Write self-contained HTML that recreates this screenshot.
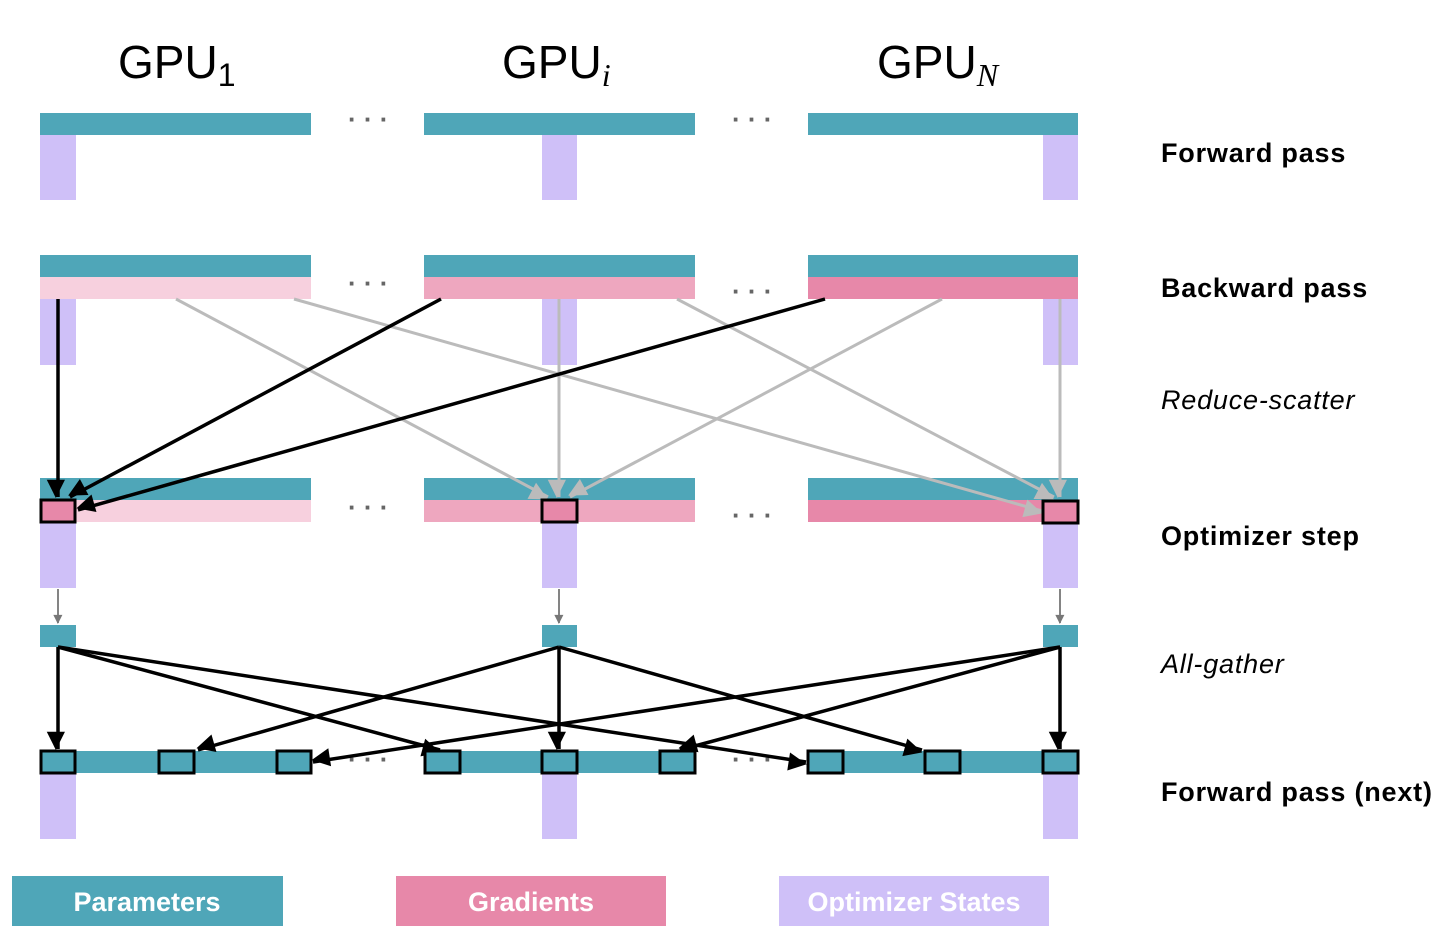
<!DOCTYPE html>
<html><head><meta charset="utf-8"><style>
html,body{margin:0;padding:0;background:#fff;}
svg{display:block}
text{font-family:"Liberation Sans",sans-serif}
</style></head><body>
<svg width="1440" height="944" viewBox="0 0 1440 944" xmlns="http://www.w3.org/2000/svg">
<defs>
<marker id="ab" viewBox="0 0 10 10" refX="9" refY="5" markerWidth="7" markerHeight="7" markerUnits="userSpaceOnUse" orient="auto" style="overflow:visible"><path d="M0,0 L10,5 L0,10 z" fill="#000" transform="scale(2.6) translate(-6,-1.9)"/></marker>
<marker id="ag" viewBox="0 0 10 10" refX="9" refY="5" markerWidth="7" markerHeight="7" markerUnits="userSpaceOnUse" orient="auto" style="overflow:visible"><path d="M0,0 L10,5 L0,10 z" fill="#bbb" transform="scale(2.6) translate(-6,-1.9)"/></marker>
<marker id="as" viewBox="0 0 10 10" refX="9" refY="5" markerWidth="7" markerHeight="7" markerUnits="userSpaceOnUse" orient="auto" style="overflow:visible"><path d="M0,0 L10,5 L0,10 z" fill="#777" transform="scale(1.3) translate(-2,-1)"/></marker>
</defs>
<!-- titles -->
<text x="118" y="78" font-size="46">GPU<tspan font-size="32" dy="8">1</tspan></text>
<text x="502" y="78" font-size="46">GPU<tspan font-size="32" dy="8" font-style="italic" font-family="Liberation Serif">i</tspan></text>
<text x="877" y="78" font-size="46">GPU<tspan font-size="32" dy="8" font-style="italic" font-family="Liberation Serif">N</tspan></text>

<g fill="#666" font-size="26" font-weight="bold">
<text x="348" y="128">· · ·</text><text x="732" y="128">· · ·</text>
<text x="348" y="292">· · ·</text><text x="732" y="300">· · ·</text>
<text x="348" y="516">· · ·</text><text x="732" y="524">· · ·</text>
<text x="348" y="768">· · ·</text><text x="732" y="768">· · ·</text>
</g>

<!-- Row1 forward -->
<g fill="#4FA6B8"><rect x="40" y="113" width="271" height="22"/><rect x="424" y="113" width="271" height="22"/><rect x="808" y="113" width="270" height="22"/></g>
<g fill="#CFC0F8"><rect x="40" y="135" width="36" height="65"/><rect x="542" y="135" width="35" height="65"/><rect x="1043" y="135" width="35" height="65"/></g>

<!-- Row2 backward -->
<g fill="#4FA6B8"><rect x="40" y="255" width="271" height="22"/><rect x="424" y="255" width="271" height="22"/><rect x="808" y="255" width="270" height="22"/></g>
<rect x="40" y="277" width="271" height="22" fill="#F7D0DE"/><rect x="424" y="277" width="271" height="22" fill="#EEA7BF"/><rect x="808" y="277" width="270" height="22" fill="#E788A9"/>
<g fill="#CFC0F8"><rect x="40" y="299" width="36" height="66"/><rect x="542" y="299" width="35" height="66"/><rect x="1043" y="299" width="35" height="66"/></g>

<!-- Row3 optimizer -->
<g fill="#4FA6B8"><rect x="40" y="478" width="271" height="22"/><rect x="424" y="478" width="271" height="22"/><rect x="808" y="478" width="270" height="22"/></g>
<rect x="40" y="500" width="271" height="22" fill="#F7D0DE"/><rect x="424" y="500" width="271" height="22" fill="#EEA7BF"/><rect x="808" y="500" width="270" height="22" fill="#E788A9"/>
<g fill="#CFC0F8"><rect x="40" y="523" width="36" height="65"/><rect x="542" y="523" width="35" height="65"/><rect x="1043" y="523" width="35" height="65"/></g>

<!-- reduce-scatter gray -->
<g stroke="#bbb" stroke-width="3" marker-end="url(#ag)">
<line x1="176" y1="299" x2="548" y2="497"/>
<line x1="559" y1="299" x2="559" y2="497"/>
<line x1="942" y1="299" x2="570" y2="497"/>
<line x1="294" y1="299" x2="1042" y2="511"/>
<line x1="677" y1="299" x2="1054" y2="497"/>
<line x1="1060" y1="299" x2="1060" y2="497"/>
</g>
<g stroke="#000" stroke-width="3.5" marker-end="url(#ab)">
<line x1="58" y1="299" x2="58" y2="497"/>
<line x1="441" y1="299" x2="70" y2="497"/>
<line x1="825" y1="299" x2="78" y2="510"/>
</g>
<rect x="41" y="500" width="34" height="22" fill="#E788A9" stroke="#000" stroke-width="3"/>
<rect x="542" y="500" width="35" height="22" fill="#E788A9" stroke="#000" stroke-width="3"/>
<rect x="1043" y="501" width="35" height="22" fill="#E788A9" stroke="#000" stroke-width="3"/>

<!-- small gray arrows -->
<g stroke="#777" stroke-width="1.8" marker-end="url(#as)">
<line x1="58" y1="589" x2="58" y2="623"/><line x1="559" y1="589" x2="559" y2="623"/><line x1="1060" y1="589" x2="1060" y2="623"/>
</g>
<g fill="#4FA6B8"><rect x="40" y="625" width="36" height="22"/><rect x="542" y="625" width="35" height="22"/><rect x="1043" y="625" width="35" height="22"/></g>

<!-- Row4 forward next -->
<g fill="#4FA6B8"><rect x="40" y="751" width="271" height="22"/><rect x="424" y="751" width="271" height="22"/><rect x="808" y="751" width="270" height="22"/></g>
<g fill="#CFC0F8"><rect x="40" y="774" width="36" height="65"/><rect x="542" y="774" width="35" height="65"/><rect x="1043" y="774" width="35" height="65"/></g>

<!-- all-gather -->
<g stroke="#000" stroke-width="3.5" marker-end="url(#ab)">
<line x1="58" y1="647" x2="58" y2="749"/>
<line x1="58" y1="647" x2="440" y2="750"/>
<line x1="58" y1="647" x2="806" y2="762"/>
<line x1="559" y1="647" x2="198" y2="750"/>
<line x1="559" y1="647" x2="559" y2="749"/>
<line x1="559" y1="647" x2="922" y2="750"/>
<line x1="1060" y1="647" x2="313" y2="762"/>
<line x1="1060" y1="647" x2="680" y2="750"/>
<line x1="1060" y1="647" x2="1060" y2="749"/>
</g>
<g fill="#4FA6B8" stroke="#000" stroke-width="3">
<rect x="41" y="751" width="34" height="22"/><rect x="159" y="751" width="35" height="22"/><rect x="277" y="751" width="34" height="22"/>
<rect x="425" y="751" width="35" height="22"/><rect x="542" y="751" width="35" height="22"/><rect x="660" y="751" width="35" height="22"/>
<rect x="808" y="751" width="35" height="22"/><rect x="925" y="751" width="35" height="22"/><rect x="1043" y="751" width="35" height="22"/>
</g>

<!-- labels -->
<g font-size="27" font-weight="bold" letter-spacing="0.8">
<text x="1161" y="162">Forward pass</text>
<text x="1161" y="297">Backward pass</text>
<text x="1161" y="545">Optimizer step</text>
<text x="1161" y="801">Forward pass (next)</text>
</g>
<g font-size="27" font-style="italic" letter-spacing="0.8">
<text x="1161" y="409">Reduce-scatter</text>
<text x="1161" y="673">All-gather</text>
</g>

<!-- legend -->
<rect x="12" y="876" width="271" height="50" fill="#4FA6B8"/>
<rect x="396" y="876" width="270" height="50" fill="#E788A9"/>
<rect x="779" y="876" width="270" height="50" fill="#CFC0F8"/>
<g font-size="27" font-weight="bold" fill="#fff" text-anchor="middle">
<text x="147" y="911">Parameters</text>
<text x="531" y="911">Gradients</text>
<text x="914" y="911">Optimizer States</text>
</g>
</svg>
</body></html>
